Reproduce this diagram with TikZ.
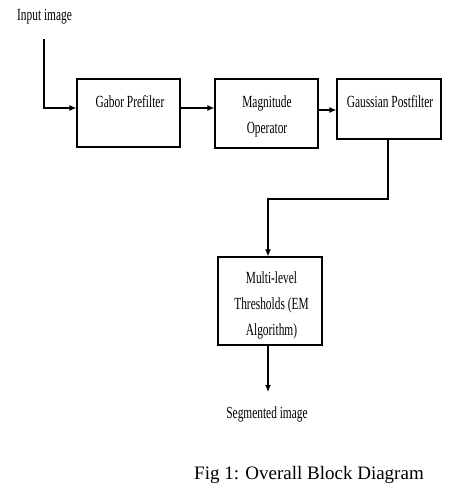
\documentclass[tikz,border=0pt]{standalone}
\usepackage{fontspec}
\setmainfont{Liberation Serif}
\usepackage{graphicx}
\usetikzlibrary{arrows.meta}
\newcommand\sqz[1]{\scalebox{0.67}[1]{#1}}
\tikzset{
  blockbox/.style={draw, line width=1.2pt, minimum width=#1, inner sep=0pt},
  txt/.style={inner sep=0pt, anchor=base, font=\fontsize{17}{26}\selectfont},
  conn/.style={line width=1pt},
  arr/.style={line width=1.1pt, -{Latex[length=7pt,width=6pt]}}
}
\begin{document}
\begin{tikzpicture}[x=1pt,y=-1pt]
\useasboundingbox (0,0) rectangle (474,484);
% boxes
\node[blockbox=103pt, minimum height=68pt] (gabor) at (128.5,113) {};
\node[blockbox=103pt, minimum height=69pt] (mag) at (266.5,113.5) {};
\node[blockbox=104pt, minimum height=60pt] (gauss) at (389,109) {};
\node[blockbox=104pt, minimum height=88pt] (multi) at (270,301) {};
% texts
\node[txt] (tin) at (44.5,21) {\sqz{Input image}};
\node[txt] (tgabor) at (130,108) {\sqz{Gabor Prefilter}};
\node[txt] (tmag) at (267,107) {\sqz{\begin{tabular}[t]{@{}c@{}}Magnitude\\Operator\end{tabular}}};
\node[txt] (tgauss) at (390,108) {\sqz{Gaussian Postfilter}};
\node[txt] (tmulti) at (271.5,283) {\sqz{\begin{tabular}[t]{@{}c@{}}Multi-level\\Thresholds (EM\\Algorithm)\end{tabular}}};
\node[txt] (tseg) at (267,418) {\sqz{Segmented image}};
\node[inner sep=0pt, anchor=base, font=\fontsize{19}{23}\selectfont] (cap) at (309,479) {Fig 1: Overall Block Diagram};
% coordinates
\coordinate (inTop) at (44,39);
\coordinate (r1) at (0,108);
\coordinate (r2) at (0,110);
\coordinate (out) at (268,392);
% connectors
\draw[arr] (inTop) |- (gabor.west |- r1);
\draw[arr] (gabor.east |- r1) -- (mag.west |- r1);
\draw[arr] (mag.east |- r2) -- (gauss.west |- r2);
\draw[arr] (gauss.south -| 388,0) -- (388,199) -| (multi.north -| out);
\draw[arr] (multi.south -| out) -- (out);
\end{tikzpicture}
\end{document}
